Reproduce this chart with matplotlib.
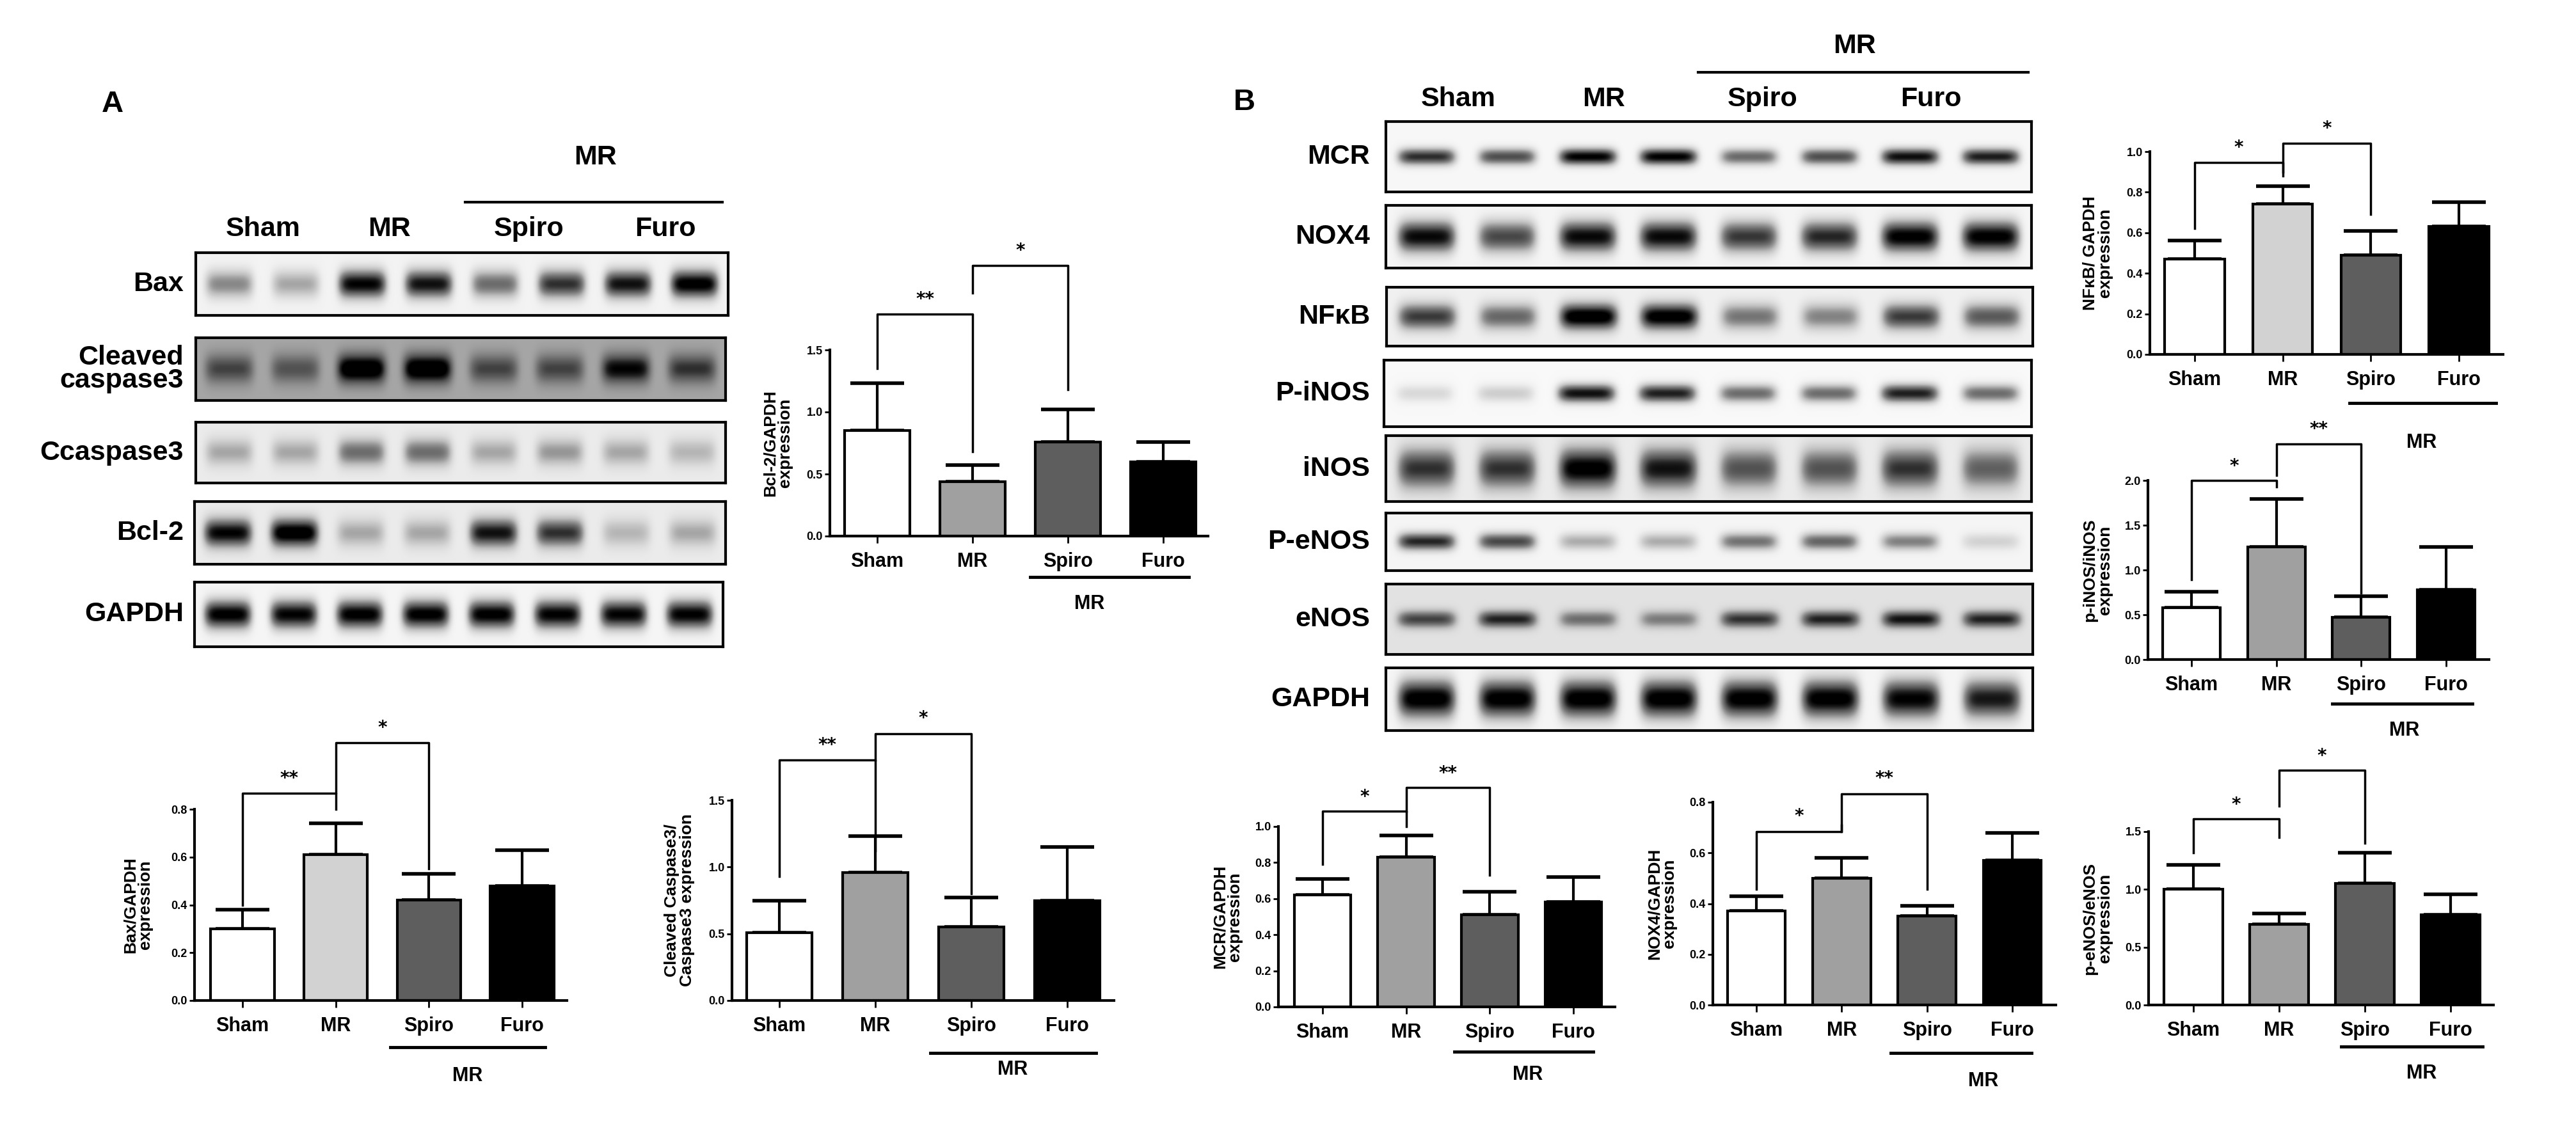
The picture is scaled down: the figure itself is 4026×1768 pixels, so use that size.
import matplotlib
matplotlib.use("Agg")
import matplotlib.pyplot as plt
import numpy as np

W, H = 4026, 1768
FONT = "Liberation Sans"

groups = ["Sham", "MR", "Spiro", "Furo"]

# ---- blot band intensities (8 lanes: Sham x2, MR x2, Spiro x2, Furo x2) ----
blot_a_rows = ["Bax", "Cleaved\ncaspase3", "Ccaspase3", "Bcl-2", "GAPDH"]
bax_bands = [0.45, 0.35, 0.9, 0.85, 0.55, 0.75, 0.85, 0.95]
cleaved_bands = [0.35, 0.3, 0.7, 0.7, 0.35, 0.35, 0.55, 0.4]
ccasp_bands = [0.3, 0.3, 0.5, 0.5, 0.3, 0.35, 0.3, 0.25]
bcl2_bands = [0.85, 0.95, 0.3, 0.3, 0.8, 0.7, 0.25, 0.3]
gapdh_a_bands = [0.95, 0.92, 0.95, 0.95, 0.95, 0.93, 0.92, 0.93]

blot_b_rows = ["MCR", "NOX4", "NFκB", "P-iNOS", "iNOS", "P-eNOS", "eNOS", "GAPDH"]
mcr_bands = [0.8, 0.7, 0.95, 0.95, 0.6, 0.7, 0.9, 0.85]
nox4_bands = [0.9, 0.7, 0.9, 0.9, 0.75, 0.8, 0.95, 0.95]
nfkb_bands = [0.7, 0.55, 0.98, 0.95, 0.5, 0.45, 0.7, 0.6]
pinos_bands = [0.2, 0.25, 0.9, 0.85, 0.6, 0.6, 0.85, 0.6]
inos_bands = [0.7, 0.7, 0.9, 0.8, 0.6, 0.6, 0.7, 0.55]
peNOS_bands = [0.8, 0.7, 0.35, 0.35, 0.55, 0.6, 0.5, 0.2]
enos_bands = [0.6, 0.7, 0.45, 0.4, 0.65, 0.7, 0.75, 0.7]
gapdh_b_bands = [0.98, 0.97, 0.98, 0.98, 0.97, 0.97, 0.93, 0.85]

# ---- quantification (mean, SEM) ----
bcl2_mean = [0.85, 0.44, 0.76, 0.60]
bcl2_err = [0.38, 0.13, 0.26, 0.16]
bax_mean = [0.30, 0.61, 0.42, 0.48]
bax_err = [0.08, 0.13, 0.11, 0.15]
casp_mean = [0.51, 0.96, 0.55, 0.75]
casp_err = [0.24, 0.27, 0.22, 0.40]
nfkb_mean = [0.47, 0.74, 0.49, 0.63]
nfkb_err = [0.09, 0.09, 0.12, 0.12]
pinos_mean = [0.58, 1.26, 0.47, 0.78]
pinos_err = [0.18, 0.53, 0.24, 0.48]
mcr_mean = [0.62, 0.83, 0.51, 0.58]
mcr_err = [0.09, 0.12, 0.13, 0.14]
nox4_mean = [0.37, 0.50, 0.35, 0.57]
nox4_err = [0.06, 0.08, 0.04, 0.11]
penos_mean = [1.00, 0.70, 1.05, 0.78]
penos_err = [0.21, 0.09, 0.27, 0.18]

fig = plt.figure(figsize=(W / 100, H / 100), dpi=100)


def fx(x):
    return x / W


def fy(y):
    return 1 - y / H


def add_ax(x0, y0, x1, y1):
    return fig.add_axes([fx(x0), fy(y1), fx(x1 - x0), (y1 - y0) / H])


def blot(box, bands, bg=0.12, wy=0.22, wx=0.36):
    x0, y0, x1, y1 = box
    ax = add_ax(x0, y0, x1, y1)
    xs = np.linspace(0, 8, 600)
    ys = np.linspace(0, 1, 120)
    X, Y = np.meshgrid(xs, ys)
    img = np.full_like(X, bg)
    for i, b in enumerate(bands):
        img += b * np.exp(-((X - i - 0.5) / wx) ** 6) * np.exp(-((Y - 0.5) / wy) ** 2)
    ax.imshow(np.clip(img, 0, 1), cmap="Greys", vmin=0, vmax=1, aspect="auto",
              extent=(0, 8, 0, 1), interpolation="bilinear")
    ax.set_xticks([])
    ax.set_yticks([])
    for s in ax.spines.values():
        s.set_linewidth(3)
    return ax


def label(x, y, s, size=30, ha="center", **kw):
    fig.text(fx(x), fy(y), s, fontsize=size, fontweight="bold", ha=ha, va="center",
             family=FONT, **kw)


# ---------------- Panel A blots ----------------
label(176, 163, "A", 34)
label(931, 246, "MR", 31)
fig.add_artist(plt.Line2D([fx(727), fx(1129)], [fy(316)] * 2, color="black", lw=3))
for g, x in zip(groups, [411, 608, 827, 1040]):
    label(x, 358, g, 31)
a_boxes = [(306, 395, 1138, 493), (306, 528, 1134, 626), (306, 660, 1134, 755),
           (304, 784, 1134, 882), (304, 910, 1130, 1011)]
a_bands = [bax_bands, cleaved_bands, ccasp_bands, bcl2_bands, gapdh_a_bands]
a_bg = [0.1, 0.45, 0.15, 0.15, 0.08]
for name, box, bands, bg in zip(blot_a_rows, a_boxes, a_bands, a_bg):
    blot(box, bands, bg=bg)
    label(287, (box[1] + box[3]) / 2, name, 31, ha="right", linespacing=0.9)

# ---------------- Panel B blots ----------------
label(1945, 160, "B", 34)
label(2898, 72, "MR", 31)
fig.add_artist(plt.Line2D([fx(2654), fx(3170)], [fy(113)] * 2, color="black", lw=3))
for g, x in zip(groups, [2279, 2507, 2755, 3018]):
    label(x, 155, g, 31)
b_boxes = [(2166, 190, 3175, 300), (2166, 321, 3175, 419), (2167, 449, 3177, 541),
           (2163, 563, 3175, 667), (2166, 681, 3175, 784), (2166, 802, 3175, 892),
           (2166, 913, 3177, 1023), (2166, 1044, 3177, 1142)]
b_bands = [mcr_bands, nox4_bands, nfkb_bands, pinos_bands, inos_bands, peNOS_bands,
           enos_bands, gapdh_b_bands]
b_bg = [0.06, 0.08, 0.12, 0.05, 0.15, 0.08, 0.2, 0.08]
b_wy = [0.12, 0.25, 0.22, 0.14, 0.3, 0.15, 0.12, 0.3]
for name, box, bands, bg, wy in zip(blot_b_rows, b_boxes, b_bands, b_bg, b_wy):
    blot(box, bands, bg=bg, wy=wy)
    label(2141, (box[1] + box[3]) / 2, name, 31, ha="right")


# ---------------- bar charts ----------------
def barchart(box, centers, mean, err, ymax, step, ylabel, mr_color, brackets,
             group_line, group_label, ylab_x):
    L, T, R, B = box
    ax = add_ax(L, T, R, B)
    s = (centers[1] - centers[0]) / 3
    x = np.arange(4)
    colors = ["white", mr_color, "#5e5e5e", "black"]
    ax.bar(x, mean, width=0.68, color=colors, edgecolor="black", linewidth=3, zorder=2)
    ax.errorbar(x, mean, yerr=[np.zeros(4), err], fmt="none", ecolor="black",
                elinewidth=3, capsize=30, capthick=4, zorder=1)
    ax.set_xlim(-(centers[0] - L) / s, 3 + (R - centers[1]) / s)
    ax.set_ylim(0, ymax)
    ticks = np.arange(0, ymax + step / 2, step)
    ax.set_yticks(ticks)
    ax.set_yticklabels([f"{v:.1f}" for v in ticks], fontsize=13, fontweight="bold",
                       family=FONT)
    ax.set_xticks(x)
    ax.set_xticklabels(groups, fontsize=22, fontweight="bold", family=FONT)
    ax.tick_params(axis="x", length=8, width=2, pad=10)
    ax.tick_params(axis="y", length=6, width=2, pad=2)
    for sp in ["top", "right"]:
        ax.spines[sp].set_visible(False)
    for sp in ["left", "bottom"]:
        ax.spines[sp].set_linewidth(3)
    ax.patch.set_alpha(0)
    for (i1, i2, y, l1, l2, star) in brackets:
        ax.plot([i1, i1, i2, i2], [l1, y, y, l2], color="black", lw=2.5, clip_on=False)
        ax.text((i1 + i2) / 2, y + ymax * 0.03, star, ha="center", va="bottom",
                fontsize=20, fontweight="bold", clip_on=False)
    gx0, gx1, gy = group_line
    fig.add_artist(plt.Line2D([fx(gx0), fx(gx1)], [fy(gy + 6)] * 2, color="black", lw=3.5))
    fig.text(fx(group_label[0]), fy(group_label[1] + 6), "MR", fontsize=22,
             fontweight="bold", family=FONT, ha="center", va="center")
    fig.text(fx(ylab_x), fy((T + B) / 2), ylabel, rotation=90, fontsize=19,
             fontweight="bold", family=FONT, ha="center", va="center", linespacing=0.95)
    return ax


barchart((1297, 547, 1888, 838), (1371, 1818), bcl2_mean, bcl2_err, 1.5, 0.5,
         "Bcl-2/GAPDH\nexpression", "#a0a0a0",
         [(0, 1, 1.79, 1.35, 0.68, "**"), (1, 2, 2.18, 1.96, 1.18, "*")],
         (1610, 1858, 896), (1703, 938), 1215)
barchart((304, 1265, 886, 1564), (379, 816), bax_mean, bax_err, 0.8, 0.2,
         "Bax/GAPDH\nexpression", "#d2d2d2",
         [(0, 1, 0.867, 0.40, 0.80, "**"), (1, 2, 1.078, 0.87, 0.55, "*")],
         (610, 852, 1631), (731, 1676), 215)
barchart((1144, 1251, 1741, 1564), (1218, 1668), casp_mean, casp_err, 1.5, 0.5,
         "Cleaved Caspase3/\nCaspase3 expression", "#a0a0a0",
         [(0, 1, 1.80, 0.93, 1.12, "**"), (1, 2, 2.0, 1.8, 0.8, "*")],
         (1454, 1713, 1640), (1583, 1666), 1062)
barchart((3360, 237, 3912, 554), (3430, 3843), nfkb_mean, nfkb_err, 1.0, 0.2,
         "NFκB/ GAPDH\nexpression", "#d2d2d2",
         [(0, 1, 0.946, 0.62, 0.90, "*"), (1, 2, 1.04, 0.88, 0.69, "*")],
         (3672, 3901, 624), (3785, 686), 3278)
barchart((3357, 751, 3890, 1031), (3425, 3823), pinos_mean, pinos_err, 2.0, 0.5,
         "p-iNOS/iNOS\nexpression", "#a0a0a0",
         [(0, 1, 2.0, 0.89, 1.93, "*"), (1, 2, 2.41, 2.06, 0.74, "**")],
         (3645, 3864, 1094), (3758, 1136), 3278)
barchart((1998, 1292, 2524, 1574), (2067, 2459), mcr_mean, mcr_err, 1.0, 0.2,
         "MCR/GAPDH\nexpression", "#a0a0a0",
         [(0, 1, 1.085, 0.79, 1.0, "*"), (1, 2, 1.216, 1.085, 0.73, "**")],
         (2273, 2490, 1638), (2388, 1674), 1918)
barchart((2677, 1254, 3213, 1571), (2745, 3145), nox4_mean, nox4_err, 0.8, 0.2,
         "NOX4/GAPDH\nexpression", "#a0a0a0",
         [(0, 1, 0.684, 0.457, 0.71, "*"), (1, 2, 0.833, 0.684, 0.457, "**")],
         (2955, 3175, 1640), (3100, 1684), 2597)
barchart((3358, 1300, 3897, 1571), (3428, 3830), penos_mean, penos_err, 1.5, 0.5,
         "p-eNOS/eNOS\nexpression", "#a0a0a0",
         [(0, 1, 1.61, 1.32, 1.45, "*"), (1, 2, 2.03, 1.72, 1.40, "*")],
         (3659, 3880, 1630), (3785, 1672), 3278)

fig.savefig("out.png", dpi=100)
